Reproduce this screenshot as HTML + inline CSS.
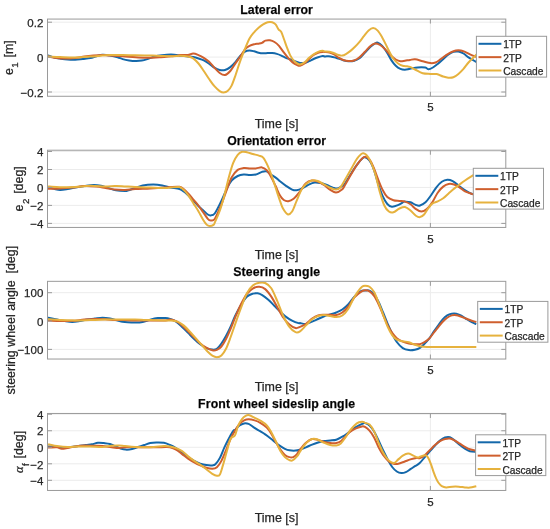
<!DOCTYPE html>
<html><head><meta charset="utf-8"><style>
html,body{margin:0;padding:0;background:#fff;}
svg{display:block;}
text{font-family:'Liberation Sans', Arial, Helvetica, sans-serif;fill:#262626;stroke:#262626;stroke-width:0.25px;}
.tl{font-size:11.5px;}
.lab{font-size:12.45px;}
.ttl{font-size:12.3px;font-weight:bold;fill:#000;}
.lg{font-size:10.2px;}
</style></head><body>
<svg width="550" height="529" viewBox="0 0 550 529">
<rect width="550" height="529" fill="#fff"/>
<line x1="47.5" y1="22.2" x2="505.8" y2="22.2" stroke="#ececec" stroke-width="1"/>
<line x1="47.5" y1="57.1" x2="505.8" y2="57.1" stroke="#ececec" stroke-width="1"/>
<line x1="47.5" y1="92.0" x2="505.8" y2="92.0" stroke="#ececec" stroke-width="1"/>
<line x1="430.4" y1="19.07" x2="430.4" y2="96.27" stroke="#ececec" stroke-width="1"/>
<clipPath id="c0"><rect x="47.5" y="19.07" width="458.3" height="77.19999999999999"/></clipPath>
<g clip-path="url(#c0)" fill="none" stroke-width="2" stroke-linejoin="round" stroke-linecap="butt">
<path d="M47.80 56.00C47.97 55.93 47.75 55.35 48.80 55.60C49.85 55.85 52.22 57.00 54.10 57.50C55.98 58.00 57.83 58.25 60.10 58.60C62.37 58.95 65.18 59.40 67.70 59.60C70.22 59.80 72.68 59.90 75.20 59.80C77.72 59.70 80.27 59.28 82.80 59.00C85.33 58.72 88.12 58.57 90.40 58.10C92.68 57.63 94.48 56.75 96.50 56.20C98.52 55.65 100.25 54.92 102.50 54.80C104.75 54.68 107.48 55.10 110.00 55.50C112.52 55.90 115.48 56.60 117.60 57.20C119.72 57.80 120.78 58.57 122.70 59.10C124.62 59.63 126.97 60.08 129.10 60.40C131.23 60.72 133.38 60.97 135.50 61.00C137.62 61.03 139.68 60.97 141.80 60.60C143.92 60.23 146.08 59.48 148.20 58.80C150.32 58.12 152.20 57.10 154.50 56.50C156.80 55.90 159.23 55.52 162.00 55.20C164.77 54.88 168.32 54.58 171.10 54.60C173.88 54.62 177.22 55.10 178.70 55.30C180.18 55.50 178.47 55.62 180.00 55.80C181.53 55.98 185.70 56.18 187.90 56.40C190.10 56.62 191.43 56.75 193.20 57.10C194.97 57.45 196.73 57.95 198.50 58.50C200.27 59.05 202.03 59.53 203.80 60.40C205.57 61.27 207.33 62.48 209.10 63.70C210.87 64.92 212.63 66.65 214.40 67.70C216.17 68.75 217.93 69.62 219.70 70.00C221.47 70.38 223.23 70.48 225.00 70.00C226.77 69.52 228.53 68.47 230.30 67.10C232.07 65.73 233.83 63.80 235.60 61.80C237.37 59.80 239.33 56.80 240.90 55.10C242.47 53.40 243.57 52.37 245.00 51.60C246.43 50.83 247.98 50.55 249.50 50.50C251.02 50.45 252.58 50.93 254.10 51.30C255.62 51.67 257.10 52.37 258.60 52.70C260.10 53.03 261.58 53.23 263.10 53.30C264.62 53.37 266.18 53.13 267.70 53.10C269.22 53.07 270.68 52.97 272.20 53.10C273.72 53.23 275.28 53.48 276.80 53.90C278.32 54.32 279.80 54.95 281.30 55.60C282.80 56.25 284.28 57.15 285.80 57.80C287.32 58.45 288.88 58.93 290.40 59.50C291.92 60.07 293.30 60.63 294.90 61.20C296.50 61.77 298.40 62.62 300.00 62.90C301.60 63.18 302.98 63.18 304.50 62.90C306.02 62.62 307.58 61.85 309.10 61.20C310.62 60.55 312.10 59.65 313.60 59.00C315.10 58.35 316.58 57.78 318.10 57.30C319.62 56.82 321.55 56.25 322.70 56.10C323.85 55.95 323.70 56.35 325.00 56.40C326.30 56.45 328.68 56.18 330.50 56.40C332.32 56.62 333.78 57.07 335.90 57.70C338.02 58.33 341.08 59.60 343.20 60.20C345.32 60.80 346.78 61.20 348.60 61.30C350.42 61.40 352.28 61.32 354.10 60.80C355.92 60.28 357.68 59.58 359.50 58.20C361.32 56.82 363.17 54.40 365.00 52.50C366.83 50.60 368.83 48.30 370.50 46.80C372.17 45.30 373.80 44.18 375.00 43.50C376.20 42.82 376.50 42.30 377.70 42.70C378.90 43.10 380.68 44.32 382.20 45.90C383.72 47.48 385.28 49.83 386.80 52.20C388.32 54.57 389.80 57.83 391.30 60.10C392.80 62.37 394.28 64.33 395.80 65.80C397.32 67.27 398.88 68.25 400.40 68.90C401.92 69.55 403.30 69.72 404.90 69.70C406.50 69.68 407.88 69.17 410.00 68.80C412.12 68.43 415.05 67.70 417.60 67.50C420.15 67.30 423.48 67.30 425.30 67.60C427.12 67.90 427.23 69.32 428.50 69.30C429.77 69.28 431.32 68.43 432.90 67.50C434.48 66.57 436.30 65.07 438.00 63.70C439.70 62.33 441.40 60.78 443.10 59.30C444.80 57.82 446.50 56.03 448.20 54.80C449.90 53.57 451.60 52.43 453.30 51.90C455.00 51.37 456.70 51.33 458.40 51.60C460.10 51.87 461.82 52.53 463.50 53.50C465.18 54.47 466.82 56.23 468.50 57.40C470.18 58.57 472.30 59.73 473.60 60.50C474.90 61.27 475.85 61.75 476.30 62.00" stroke="#1468aa"/>
<path d="M47.80 56.40C47.97 56.43 47.25 56.32 48.80 56.60C50.35 56.88 54.45 57.77 57.10 58.10C59.75 58.43 61.68 58.60 64.70 58.60C67.72 58.60 71.93 58.43 75.20 58.10C78.47 57.77 81.27 57.02 84.30 56.60C87.33 56.18 90.37 55.85 93.40 55.60C96.43 55.35 99.73 55.10 102.50 55.10C105.27 55.10 106.63 55.40 110.00 55.60C113.37 55.80 118.45 56.03 122.70 56.30C126.95 56.57 131.25 56.95 135.50 57.20C139.75 57.45 143.97 57.80 148.20 57.80C152.43 57.80 157.08 57.45 160.90 57.20C164.72 56.95 168.13 56.57 171.10 56.30C174.07 56.03 177.22 55.80 178.70 55.60C180.18 55.40 178.47 55.22 180.00 55.10C181.53 54.98 185.70 55.15 187.90 54.90C190.10 54.65 191.43 53.57 193.20 53.60C194.97 53.63 196.73 54.40 198.50 55.10C200.27 55.80 202.03 56.68 203.80 57.80C205.57 58.92 207.33 60.15 209.10 61.80C210.87 63.45 212.63 65.83 214.40 67.70C216.17 69.57 217.93 71.78 219.70 73.00C221.47 74.22 223.23 75.33 225.00 75.00C226.77 74.67 228.53 72.98 230.30 71.00C232.07 69.02 233.83 65.63 235.60 63.10C237.37 60.57 239.33 58.10 240.90 55.80C242.47 53.50 243.57 50.95 245.00 49.30C246.43 47.65 247.98 46.75 249.50 45.90C251.02 45.05 252.58 44.57 254.10 44.20C255.62 43.83 257.28 43.92 258.60 43.70C259.92 43.48 260.87 43.42 262.00 42.90C263.13 42.38 264.07 41.03 265.40 40.60C266.73 40.17 268.48 40.07 270.00 40.30C271.52 40.53 273.00 41.07 274.50 42.00C276.00 42.93 277.48 44.20 279.00 45.90C280.52 47.60 282.08 50.22 283.60 52.20C285.12 54.18 286.60 56.10 288.10 57.80C289.60 59.50 291.08 61.17 292.60 62.40C294.12 63.63 295.97 64.63 297.20 65.20C298.43 65.77 298.78 66.08 300.00 65.80C301.22 65.52 302.98 64.63 304.50 63.50C306.02 62.37 307.58 60.42 309.10 59.00C310.62 57.58 312.10 56.05 313.60 55.00C315.10 53.95 316.58 53.22 318.10 52.70C319.62 52.18 321.55 52.02 322.70 51.90C323.85 51.78 323.87 51.88 325.00 52.00C326.13 52.12 327.98 52.18 329.50 52.60C331.02 53.02 332.58 53.65 334.10 54.50C335.62 55.35 337.08 56.78 338.60 57.70C340.12 58.62 341.53 59.43 343.20 60.00C344.87 60.57 346.78 61.02 348.60 61.10C350.42 61.18 352.28 61.13 354.10 60.50C355.92 59.87 357.68 58.75 359.50 57.30C361.32 55.85 363.17 53.70 365.00 51.80C366.83 49.90 368.83 47.28 370.50 45.90C372.17 44.52 373.80 43.83 375.00 43.50C376.20 43.17 376.50 43.40 377.70 43.90C378.90 44.40 380.68 45.32 382.20 46.50C383.72 47.68 385.28 49.40 386.80 51.00C388.32 52.60 389.80 54.68 391.30 56.10C392.80 57.52 394.28 58.65 395.80 59.50C397.32 60.35 398.88 61.00 400.40 61.20C401.92 61.40 403.30 60.92 404.90 60.70C406.50 60.48 408.30 60.13 410.00 59.90C411.70 59.67 412.98 59.08 415.10 59.30C417.22 59.52 420.15 60.57 422.70 61.20C425.25 61.83 428.27 62.88 430.40 63.10C432.53 63.32 433.82 63.13 435.50 62.50C437.18 61.87 438.82 60.47 440.50 59.30C442.18 58.13 443.90 56.67 445.60 55.50C447.30 54.33 449.00 53.15 450.70 52.30C452.40 51.45 454.10 50.72 455.80 50.40C457.50 50.08 459.20 50.08 460.90 50.40C462.60 50.72 464.30 51.57 466.00 52.30C467.70 53.03 469.38 54.05 471.10 54.80C472.82 55.55 475.43 56.47 476.30 56.80" stroke="#cf5f2e"/>
<path d="M47.80 56.60C47.97 56.60 46.77 56.52 48.80 56.60C50.83 56.68 55.63 56.95 60.00 57.10C64.37 57.25 69.93 57.58 75.00 57.50C80.07 57.42 84.57 57.02 90.40 56.60C96.23 56.18 104.62 55.25 110.00 55.00C115.38 54.75 118.45 55.05 122.70 55.10C126.95 55.15 131.25 55.23 135.50 55.30C139.75 55.37 143.97 55.40 148.20 55.50C152.43 55.60 156.93 55.78 160.90 55.90C164.87 56.02 168.82 56.22 172.00 56.20C175.18 56.18 177.35 55.77 180.00 55.80C182.65 55.83 185.70 55.98 187.90 56.40C190.10 56.82 191.43 57.12 193.20 58.30C194.97 59.48 196.73 61.38 198.50 63.50C200.27 65.62 202.03 68.42 203.80 71.00C205.57 73.58 207.33 76.47 209.10 79.00C210.87 81.53 212.63 84.18 214.40 86.20C216.17 88.22 218.15 90.05 219.70 91.10C221.25 92.15 222.38 92.50 223.70 92.50C225.02 92.50 226.28 92.25 227.60 91.10C228.92 89.95 230.27 88.28 231.60 85.60C232.93 82.92 234.28 78.75 235.60 75.00C236.92 71.25 238.18 66.85 239.50 63.10C240.82 59.35 242.58 54.88 243.50 52.50C244.42 50.12 244.00 51.13 245.00 48.80C246.00 46.47 247.98 41.25 249.50 38.50C251.02 35.75 252.58 34.08 254.10 32.30C255.62 30.52 257.10 29.12 258.60 27.80C260.10 26.48 261.58 25.33 263.10 24.40C264.62 23.47 266.18 22.57 267.70 22.20C269.22 21.83 270.88 21.83 272.20 22.20C273.52 22.57 274.55 23.22 275.60 24.40C276.65 25.58 277.55 28.03 278.50 29.30C279.45 30.57 280.37 30.30 281.30 32.00C282.23 33.70 283.15 36.90 284.10 39.50C285.05 42.10 285.95 44.92 287.00 47.60C288.05 50.28 289.27 53.42 290.40 55.60C291.53 57.78 292.67 59.40 293.80 60.70C294.93 62.00 296.17 62.78 297.20 63.40C298.23 64.02 298.78 64.57 300.00 64.40C301.22 64.23 302.98 63.50 304.50 62.40C306.02 61.30 307.58 59.13 309.10 57.80C310.62 56.47 312.10 55.38 313.60 54.40C315.10 53.42 316.58 52.50 318.10 51.90C319.62 51.30 321.55 50.88 322.70 50.80C323.85 50.72 323.87 51.23 325.00 51.40C326.13 51.57 327.98 51.50 329.50 51.80C331.02 52.10 332.58 52.67 334.10 53.20C335.62 53.73 337.23 54.60 338.60 55.00C339.97 55.40 341.08 55.75 342.30 55.60C343.52 55.45 344.53 54.88 345.90 54.10C347.27 53.32 348.98 52.12 350.50 50.90C352.02 49.68 353.50 48.32 355.00 46.80C356.50 45.28 357.98 43.62 359.50 41.80C361.02 39.98 362.58 37.78 364.10 35.90C365.62 34.02 367.10 31.80 368.60 30.50C370.10 29.20 371.58 28.08 373.10 28.10C374.62 28.12 376.18 29.05 377.70 30.60C379.22 32.15 380.68 34.75 382.20 37.40C383.72 40.05 385.47 43.85 386.80 46.50C388.13 49.15 389.07 51.22 390.20 53.30C391.33 55.38 392.28 57.30 393.60 59.00C394.92 60.70 396.60 62.37 398.10 63.50C399.60 64.63 401.08 65.33 402.60 65.80C404.12 66.27 405.97 66.12 407.20 66.30C408.43 66.48 408.68 66.37 410.00 66.90C411.32 67.43 412.98 68.43 415.10 69.50C417.22 70.57 420.15 72.57 422.70 73.30C425.25 74.03 428.07 73.77 430.40 73.90C432.73 74.03 434.58 73.67 436.70 74.10C438.82 74.53 441.18 75.90 443.10 76.50C445.02 77.10 446.50 77.57 448.20 77.70C449.90 77.83 451.60 77.93 453.30 77.30C455.00 76.67 456.70 75.32 458.40 73.90C460.10 72.48 461.82 70.70 463.50 68.80C465.18 66.90 466.82 64.40 468.50 62.50C470.18 60.60 472.30 58.73 473.60 57.40C474.90 56.07 475.85 54.98 476.30 54.50" stroke="#e6b23e"/>
</g>
<line x1="47.5" y1="22.2" x2="52.0" y2="22.2" stroke="#9a9a9a" stroke-width="1"/>
<line x1="505.8" y1="22.2" x2="501.3" y2="22.2" stroke="#9a9a9a" stroke-width="1"/>
<line x1="47.5" y1="57.1" x2="52.0" y2="57.1" stroke="#9a9a9a" stroke-width="1"/>
<line x1="505.8" y1="57.1" x2="501.3" y2="57.1" stroke="#9a9a9a" stroke-width="1"/>
<line x1="47.5" y1="92.0" x2="52.0" y2="92.0" stroke="#9a9a9a" stroke-width="1"/>
<line x1="505.8" y1="92.0" x2="501.3" y2="92.0" stroke="#9a9a9a" stroke-width="1"/>
<line x1="430.4" y1="96.27" x2="430.4" y2="91.77" stroke="#9a9a9a" stroke-width="1"/>
<line x1="430.4" y1="19.07" x2="430.4" y2="23.57" stroke="#9a9a9a" stroke-width="1"/>
<rect x="47.5" y="19.07" width="458.30" height="77.20" fill="none" stroke="#9a9a9a" stroke-width="1.0"/>
<text x="43.3" y="26.90" text-anchor="end" class="tl">0.2</text>
<text x="43.3" y="61.80" text-anchor="end" class="tl">0</text>
<text x="43.3" y="96.70" text-anchor="end" class="tl">−0.2</text>
<text x="430.4" y="111.47" text-anchor="middle" class="tl">5</text>
<text x="276.6" y="128.17" text-anchor="middle" class="lab">Time [s]</text>
<text x="276.60" y="13.57" text-anchor="middle" class="ttl" letter-spacing="0.0">Lateral error</text>
<text transform="translate(12.8 57.67) rotate(-90)" text-anchor="middle" class="lab">e<tspan dx="0.5" dy="5.5" font-size="9.8">1</tspan><tspan dx="1.3" dy="-5.5"> [m]</tspan></text>
<rect x="476.4" y="36.3" width="70.2" height="40.8" fill="#fff" stroke="#9a9a9a" stroke-width="1"/>
<line x1="478.5" y1="43.80" x2="501.4" y2="43.80" stroke="#1468aa" stroke-width="2"/>
<text x="503.2" y="48.30" class="lg">1TP</text>
<line x1="478.5" y1="57.15" x2="501.4" y2="57.15" stroke="#cf5f2e" stroke-width="2"/>
<text x="503.2" y="61.65" class="lg">2TP</text>
<line x1="478.5" y1="70.50" x2="501.4" y2="70.50" stroke="#e6b23e" stroke-width="2"/>
<text x="503.2" y="75.00" class="lg">Cascade</text>
<line x1="47.5" y1="151.5" x2="505.8" y2="151.5" stroke="#ececec" stroke-width="1"/>
<line x1="47.5" y1="169.5" x2="505.8" y2="169.5" stroke="#ececec" stroke-width="1"/>
<line x1="47.5" y1="187.45" x2="505.8" y2="187.45" stroke="#ececec" stroke-width="1"/>
<line x1="47.5" y1="205.4" x2="505.8" y2="205.4" stroke="#ececec" stroke-width="1"/>
<line x1="47.5" y1="223.4" x2="505.8" y2="223.4" stroke="#ececec" stroke-width="1"/>
<line x1="430.4" y1="150.22" x2="430.4" y2="227.44" stroke="#ececec" stroke-width="1"/>
<clipPath id="c1"><rect x="47.5" y="150.22" width="458.3" height="77.22"/></clipPath>
<g clip-path="url(#c1)" fill="none" stroke-width="2" stroke-linejoin="round" stroke-linecap="butt">
<path d="M47.80 187.30C48.08 187.35 48.45 187.35 49.50 187.60C50.55 187.85 52.33 188.40 54.10 188.80C55.87 189.20 57.83 189.95 60.10 190.00C62.37 190.05 65.18 189.50 67.70 189.10C70.22 188.70 72.43 188.10 75.20 187.60C77.97 187.10 81.27 186.53 84.30 186.10C87.33 185.67 90.62 185.05 93.40 185.00C96.18 184.95 98.48 185.28 101.00 185.80C103.52 186.32 105.98 187.35 108.50 188.10C111.02 188.85 113.35 189.80 116.10 190.30C118.85 190.80 123.08 191.05 125.00 191.10C126.92 191.15 125.92 191.10 127.60 190.60C129.28 190.10 132.58 188.95 135.10 188.10C137.62 187.25 139.67 186.08 142.70 185.50C145.73 184.92 150.03 184.60 153.30 184.60C156.57 184.60 159.53 185.02 162.30 185.50C165.08 185.98 167.08 186.92 169.95 187.50C172.82 188.08 177.12 188.28 179.50 189.00C181.88 189.72 182.63 190.62 184.20 191.80C185.77 192.98 187.33 194.60 188.90 196.10C190.47 197.60 192.02 199.15 193.60 200.80C195.18 202.45 196.82 204.43 198.40 206.00C199.98 207.57 201.53 208.78 203.10 210.20C204.67 211.62 206.55 213.63 207.80 214.50C209.05 215.37 209.45 215.57 210.60 215.40C211.75 215.23 212.97 215.78 214.70 213.50C216.43 211.22 218.93 205.93 221.00 201.70C223.07 197.47 225.33 191.63 227.10 188.10C228.87 184.57 229.83 182.52 231.60 180.50C233.37 178.48 235.68 177.00 237.70 176.00C239.72 175.00 241.68 174.68 243.70 174.50C245.72 174.32 247.78 174.90 249.80 174.90C251.82 174.90 253.78 175.00 255.80 174.50C257.82 174.00 260.13 172.42 261.90 171.90C263.67 171.38 264.88 170.97 266.40 171.40C267.92 171.83 269.23 173.30 271.00 174.50C272.77 175.70 275.50 177.47 277.00 178.60C278.50 179.73 278.50 180.10 280.00 181.30C281.50 182.50 283.98 184.42 286.00 185.80C288.02 187.18 290.33 188.85 292.10 189.60C293.87 190.35 294.83 190.55 296.60 190.30C298.37 190.05 300.68 189.05 302.70 188.10C304.72 187.15 306.68 185.53 308.70 184.60C310.72 183.67 312.78 182.75 314.80 182.50C316.82 182.25 318.78 182.68 320.80 183.10C322.82 183.52 324.88 184.25 326.90 185.00C328.92 185.75 331.13 187.02 332.90 187.60C334.67 188.18 335.73 188.93 337.50 188.50C339.27 188.07 342.25 185.83 343.50 185.00C344.75 184.17 343.75 185.38 345.00 183.50C346.25 181.62 348.98 176.85 351.00 173.70C353.02 170.55 354.95 167.32 357.10 164.60C359.25 161.88 361.88 158.15 363.90 157.40C365.92 156.65 367.57 158.13 369.20 160.10C370.83 162.07 372.18 165.17 373.70 169.20C375.22 173.23 376.78 179.77 378.30 184.30C379.82 188.83 381.30 193.12 382.80 196.40C384.30 199.68 385.78 202.28 387.30 204.00C388.82 205.72 390.13 206.50 391.90 206.70C393.67 206.90 395.88 206.03 397.90 205.20C399.92 204.37 402.82 202.30 404.00 201.70C405.18 201.10 403.92 201.50 405.00 201.60C406.08 201.70 408.68 201.73 410.50 202.30C412.32 202.87 414.32 204.47 415.90 205.00C417.48 205.53 418.40 205.95 420.00 205.50C421.60 205.05 423.68 203.97 425.50 202.30C427.32 200.63 429.08 198.00 430.90 195.50C432.72 193.00 434.58 189.58 436.40 187.30C438.22 185.02 439.98 183.05 441.80 181.80C443.62 180.55 445.48 179.92 447.30 179.80C449.12 179.68 450.88 180.20 452.70 181.10C454.52 182.00 456.38 183.83 458.20 185.20C460.02 186.57 461.78 188.05 463.60 189.30C465.42 190.55 467.62 191.90 469.10 192.70C470.58 193.50 471.30 193.72 472.50 194.10C473.70 194.48 475.67 194.85 476.30 195.00" stroke="#1468aa"/>
<path d="M47.80 188.80C48.08 188.80 47.45 188.85 49.50 188.80C51.55 188.75 56.32 188.70 60.10 188.50C63.88 188.30 68.17 188.00 72.20 187.60C76.23 187.20 80.27 186.27 84.30 186.10C88.33 185.93 92.87 186.27 96.40 186.60C99.93 186.93 102.47 187.60 105.50 188.10C108.53 188.60 111.35 189.28 114.60 189.60C117.85 189.92 121.58 190.08 125.00 190.00C128.42 189.92 130.90 189.35 135.10 189.10C139.30 188.85 145.15 188.75 150.20 188.50C155.25 188.25 162.10 187.83 165.40 187.60C168.70 187.37 167.65 187.23 170.00 187.10C172.35 186.97 177.13 186.40 179.50 186.80C181.87 187.20 182.63 188.27 184.20 189.50C185.77 190.73 187.33 192.48 188.90 194.20C190.47 195.92 192.02 197.92 193.60 199.80C195.18 201.68 196.82 203.45 198.40 205.50C199.98 207.55 201.53 209.88 203.10 212.10C204.67 214.32 206.55 217.42 207.80 218.80C209.05 220.18 209.45 220.37 210.60 220.40C211.75 220.43 212.97 221.48 214.70 219.00C216.43 216.52 218.93 210.53 221.00 205.50C223.07 200.47 225.33 193.47 227.10 188.80C228.87 184.13 229.83 180.65 231.60 177.50C233.37 174.35 235.68 171.47 237.70 169.90C239.72 168.33 241.68 168.35 243.70 168.10C245.72 167.85 247.78 168.35 249.80 168.40C251.82 168.45 253.78 168.57 255.80 168.40C257.82 168.23 260.13 167.15 261.90 167.40C263.67 167.65 264.88 168.35 266.40 169.90C267.92 171.45 269.48 174.05 271.00 176.70C272.52 179.35 274.00 182.65 275.50 185.80C277.00 188.95 278.62 193.23 280.00 195.60C281.38 197.97 282.42 199.07 283.80 200.00C285.18 200.93 286.67 201.42 288.30 201.20C289.93 200.98 291.70 200.25 293.60 198.70C295.50 197.15 297.68 194.43 299.70 191.90C301.72 189.37 303.68 185.40 305.70 183.50C307.72 181.60 309.78 180.82 311.80 180.50C313.82 180.18 315.78 180.85 317.80 181.60C319.82 182.35 321.88 183.67 323.90 185.00C325.92 186.33 327.88 188.33 329.90 189.60C331.92 190.87 333.98 192.60 336.00 192.60C338.02 192.60 340.50 190.87 342.00 189.60C343.50 188.33 343.50 187.52 345.00 185.00C346.50 182.48 348.98 177.90 351.00 174.50C353.02 171.10 354.95 167.50 357.10 164.60C359.25 161.70 361.88 157.98 363.90 157.10C365.92 156.22 367.57 157.53 369.20 159.30C370.83 161.07 372.18 164.28 373.70 167.70C375.22 171.12 376.78 176.03 378.30 179.80C379.82 183.57 381.30 187.42 382.80 190.30C384.30 193.18 385.53 195.45 387.30 197.10C389.07 198.75 391.38 199.57 393.40 200.20C395.42 200.83 397.47 200.67 399.40 200.90C401.33 201.13 403.15 201.03 405.00 201.60C406.85 202.17 408.68 203.05 410.50 204.30C412.32 205.55 414.08 207.88 415.90 209.10C417.72 210.32 419.58 211.60 421.40 211.60C423.22 211.60 424.98 210.65 426.80 209.10C428.62 207.55 430.48 205.03 432.30 202.30C434.12 199.57 435.88 195.32 437.70 192.70C439.52 190.08 441.38 188.07 443.20 186.60C445.02 185.13 446.78 184.25 448.60 183.90C450.42 183.55 452.28 183.93 454.10 184.50C455.92 185.07 457.68 186.15 459.50 187.30C461.32 188.45 462.83 190.27 465.00 191.40C467.17 192.53 470.62 193.50 472.50 194.10C474.38 194.70 475.67 194.85 476.30 195.00" stroke="#cf5f2e"/>
<path d="M47.80 186.60C48.08 186.60 47.47 186.48 49.50 186.60C51.53 186.72 55.75 187.23 60.00 187.30C64.25 187.37 69.93 187.25 75.00 187.00C80.07 186.75 85.40 185.87 90.40 185.80C95.40 185.73 100.97 186.55 105.00 186.60C109.03 186.65 111.77 186.17 114.60 186.10C117.43 186.03 118.58 186.05 122.00 186.20C125.42 186.35 130.40 186.77 135.10 187.00C139.80 187.23 145.15 187.42 150.20 187.60C155.25 187.78 162.10 188.10 165.40 188.10C168.70 188.10 167.65 187.77 170.00 187.60C172.35 187.43 177.13 186.63 179.50 187.10C181.87 187.57 182.63 188.90 184.20 190.40C185.77 191.90 187.33 193.90 188.90 196.10C190.47 198.30 192.02 201.08 193.60 203.60C195.18 206.12 196.82 208.52 198.40 211.20C199.98 213.88 201.68 217.42 203.10 219.70C204.52 221.98 205.80 223.85 206.90 224.90C208.00 225.95 208.60 226.00 209.70 226.00C210.80 226.00 212.62 225.55 213.50 224.90C214.38 224.25 214.00 224.33 215.00 222.10C216.00 219.87 217.98 215.78 219.50 211.50C221.02 207.22 222.58 201.95 224.10 196.40C225.62 190.85 227.10 183.75 228.60 178.20C230.10 172.65 231.58 167.00 233.10 163.10C234.62 159.20 236.18 156.68 237.70 154.80C239.22 152.92 240.68 152.23 242.20 151.80C243.72 151.37 245.03 151.83 246.80 152.20C248.57 152.57 250.78 153.43 252.80 154.00C254.82 154.57 257.13 154.97 258.90 155.60C260.67 156.23 261.90 156.05 263.40 157.80C264.90 159.55 266.38 162.70 267.90 166.10C269.42 169.50 270.98 173.90 272.50 178.20C274.02 182.50 275.75 188.12 277.00 191.90C278.25 195.68 279.00 198.13 280.00 200.90C281.00 203.67 281.73 206.27 283.00 208.50C284.27 210.73 286.08 213.80 287.60 214.30C289.12 214.80 290.60 213.73 292.10 211.50C293.60 209.27 295.08 204.43 296.60 200.90C298.12 197.37 299.68 193.07 301.20 190.30C302.72 187.53 303.93 185.93 305.70 184.30C307.47 182.67 309.78 181.05 311.80 180.50C313.82 179.95 315.78 180.37 317.80 181.00C319.82 181.63 321.88 183.20 323.90 184.30C325.92 185.40 327.88 186.72 329.90 187.60C331.92 188.48 334.23 189.65 336.00 189.60C337.77 189.55 339.00 188.93 340.50 187.30C342.00 185.67 343.25 182.82 345.00 179.80C346.75 176.78 348.98 172.73 351.00 169.20C353.02 165.67 355.20 161.25 357.10 158.60C359.00 155.95 360.88 153.93 362.40 153.30C363.92 152.67 364.82 153.42 366.20 154.80C367.58 156.18 369.20 158.45 370.70 161.60C372.20 164.75 373.68 168.65 375.20 173.70C376.72 178.75 378.28 186.60 379.80 191.90C381.32 197.20 382.78 202.23 384.30 205.50C385.82 208.77 387.38 210.37 388.90 211.50C390.42 212.63 391.65 212.80 393.40 212.30C395.15 211.80 397.47 209.38 399.40 208.50C401.33 207.62 403.15 206.67 405.00 207.00C406.85 207.33 408.68 209.05 410.50 210.50C412.32 211.95 414.32 214.60 415.90 215.70C417.48 216.80 418.63 217.30 420.00 217.10C421.37 216.90 422.73 215.95 424.10 214.50C425.47 213.05 426.83 210.22 428.20 208.40C429.57 206.58 430.72 204.77 432.30 203.60C433.88 202.43 435.88 202.30 437.70 201.40C439.52 200.50 441.38 199.53 443.20 198.20C445.02 196.87 446.78 195.00 448.60 193.40C450.42 191.80 452.28 190.08 454.10 188.60C455.92 187.12 457.68 185.85 459.50 184.50C461.32 183.15 462.83 181.97 465.00 180.50C467.17 179.03 470.62 176.87 472.50 175.70C474.38 174.53 475.67 173.87 476.30 173.50" stroke="#e6b23e"/>
</g>
<line x1="47.5" y1="151.5" x2="52.0" y2="151.5" stroke="#9a9a9a" stroke-width="1"/>
<line x1="505.8" y1="151.5" x2="501.3" y2="151.5" stroke="#9a9a9a" stroke-width="1"/>
<line x1="47.5" y1="169.5" x2="52.0" y2="169.5" stroke="#9a9a9a" stroke-width="1"/>
<line x1="505.8" y1="169.5" x2="501.3" y2="169.5" stroke="#9a9a9a" stroke-width="1"/>
<line x1="47.5" y1="187.45" x2="52.0" y2="187.45" stroke="#9a9a9a" stroke-width="1"/>
<line x1="505.8" y1="187.45" x2="501.3" y2="187.45" stroke="#9a9a9a" stroke-width="1"/>
<line x1="47.5" y1="205.4" x2="52.0" y2="205.4" stroke="#9a9a9a" stroke-width="1"/>
<line x1="505.8" y1="205.4" x2="501.3" y2="205.4" stroke="#9a9a9a" stroke-width="1"/>
<line x1="47.5" y1="223.4" x2="52.0" y2="223.4" stroke="#9a9a9a" stroke-width="1"/>
<line x1="505.8" y1="223.4" x2="501.3" y2="223.4" stroke="#9a9a9a" stroke-width="1"/>
<line x1="430.4" y1="227.44" x2="430.4" y2="222.94" stroke="#9a9a9a" stroke-width="1"/>
<line x1="430.4" y1="150.22" x2="430.4" y2="154.72" stroke="#9a9a9a" stroke-width="1"/>
<rect x="47.5" y="150.22" width="458.30" height="77.22" fill="none" stroke="#9a9a9a" stroke-width="1.0"/>
<text x="43.3" y="156.20" text-anchor="end" class="tl">4</text>
<text x="43.3" y="174.20" text-anchor="end" class="tl">2</text>
<text x="43.3" y="192.15" text-anchor="end" class="tl">0</text>
<text x="43.3" y="210.10" text-anchor="end" class="tl">−2</text>
<text x="43.3" y="228.10" text-anchor="end" class="tl">−4</text>
<text x="430.4" y="242.64" text-anchor="middle" class="tl">5</text>
<text x="276.6" y="259.34" text-anchor="middle" class="lab">Time [s]</text>
<text x="276.64" y="144.72" text-anchor="middle" class="ttl" letter-spacing="0.07">Orientation error</text>
<text transform="translate(23.4 188.83) rotate(-90)" text-anchor="middle" class="lab">e<tspan dx="0.5" dy="5.5" font-size="9.8">2</tspan><tspan dx="1.3" dy="-5.5"> [deg]</tspan></text>
<rect x="473.3" y="168.3" width="70.2" height="40.8" fill="#fff" stroke="#9a9a9a" stroke-width="1"/>
<line x1="475.40000000000003" y1="175.80" x2="498.3" y2="175.80" stroke="#1468aa" stroke-width="2"/>
<text x="500.1" y="180.30" class="lg">1TP</text>
<line x1="475.40000000000003" y1="189.15" x2="498.3" y2="189.15" stroke="#cf5f2e" stroke-width="2"/>
<text x="500.1" y="193.65" class="lg">2TP</text>
<line x1="475.40000000000003" y1="202.50" x2="498.3" y2="202.50" stroke="#e6b23e" stroke-width="2"/>
<text x="500.1" y="207.00" class="lg">Cascade</text>
<line x1="47.5" y1="292.7" x2="505.8" y2="292.7" stroke="#ececec" stroke-width="1"/>
<line x1="47.5" y1="321.05" x2="505.8" y2="321.05" stroke="#ececec" stroke-width="1"/>
<line x1="47.5" y1="349.4" x2="505.8" y2="349.4" stroke="#ececec" stroke-width="1"/>
<line x1="430.4" y1="281.33" x2="430.4" y2="359.03" stroke="#ececec" stroke-width="1"/>
<clipPath id="c2"><rect x="47.5" y="281.33" width="458.3" height="77.69999999999999"/></clipPath>
<g clip-path="url(#c2)" fill="none" stroke-width="2" stroke-linejoin="round" stroke-linecap="butt">
<path d="M47.80 317.80C48.08 317.85 47.95 317.80 49.50 318.10C51.05 318.40 54.57 319.10 57.10 319.60C59.63 320.10 62.18 320.70 64.70 321.10C67.22 321.50 69.68 322.00 72.20 322.00C74.72 322.00 77.28 321.50 79.80 321.10C82.32 320.70 84.78 320.02 87.30 319.60C89.82 319.18 92.37 318.90 94.90 318.60C97.43 318.30 99.98 317.80 102.50 317.80C105.02 317.80 107.48 318.15 110.00 318.60C112.52 319.05 115.52 319.98 117.60 320.50C119.68 321.02 120.83 321.40 122.50 321.70C124.17 322.00 125.50 322.15 127.60 322.30C129.70 322.45 132.58 322.65 135.10 322.60C137.62 322.55 140.18 322.50 142.70 322.00C145.22 321.50 147.68 320.25 150.20 319.60C152.72 318.95 155.27 318.35 157.80 318.10C160.33 317.85 163.37 317.95 165.40 318.10C167.43 318.25 168.23 318.42 170.00 319.00C171.77 319.58 173.98 320.28 176.00 321.60C178.02 322.92 180.08 325.02 182.10 326.90C184.12 328.78 186.08 330.88 188.10 332.90C190.12 334.92 192.18 337.10 194.20 339.00C196.22 340.90 198.18 342.78 200.20 344.30C202.22 345.82 204.28 347.22 206.30 348.10C208.32 348.98 210.53 349.48 212.30 349.60C214.07 349.72 215.38 349.82 216.90 348.80C218.42 347.78 219.88 345.63 221.40 343.50C222.92 341.37 224.48 338.77 226.00 336.00C227.52 333.23 229.00 330.18 230.50 326.90C232.00 323.62 233.25 319.95 235.00 316.30C236.75 312.65 238.98 308.28 241.00 305.00C243.02 301.72 245.08 298.50 247.10 296.60C249.12 294.70 251.33 294.15 253.10 293.60C254.87 293.05 256.18 293.05 257.70 293.30C259.22 293.55 260.43 294.03 262.20 295.10C263.97 296.17 266.28 297.93 268.30 299.70C270.32 301.47 272.28 303.68 274.30 305.70C276.32 307.72 278.38 309.90 280.40 311.80C282.42 313.70 284.38 315.60 286.40 317.10C288.42 318.60 290.48 319.80 292.50 320.80C294.52 321.80 297.25 322.72 298.50 323.10C299.75 323.48 298.75 322.97 300.00 323.10C301.25 323.23 303.98 324.15 306.00 323.90C308.02 323.65 310.08 322.42 312.10 321.60C314.12 320.78 316.08 319.88 318.10 319.00C320.12 318.12 322.18 317.05 324.20 316.30C326.22 315.55 328.18 315.13 330.20 314.50C332.22 313.87 334.28 313.33 336.30 312.50C338.32 311.67 340.28 310.88 342.30 309.50C344.32 308.12 346.38 306.35 348.40 304.20C350.42 302.05 352.38 298.75 354.40 296.60C356.42 294.45 358.73 292.30 360.50 291.30C362.27 290.30 363.50 290.72 365.00 290.60C366.50 290.48 367.98 289.97 369.50 290.60C371.02 291.23 372.58 292.52 374.10 294.40C375.62 296.28 377.10 298.88 378.60 301.90C380.10 304.92 381.58 308.83 383.10 312.50C384.62 316.17 386.18 320.37 387.70 323.90C389.22 327.43 390.68 330.68 392.20 333.70C393.72 336.72 395.03 339.60 396.80 342.00C398.57 344.40 400.78 346.75 402.80 348.10C404.82 349.45 406.88 349.83 408.90 350.10C410.92 350.37 413.05 350.08 414.90 349.70C416.75 349.32 418.40 348.78 420.00 347.80C421.60 346.82 422.98 345.32 424.50 343.80C426.02 342.28 427.58 340.68 429.10 338.70C430.62 336.72 432.10 334.08 433.60 331.90C435.10 329.72 436.58 327.68 438.10 325.60C439.62 323.52 441.18 321.10 442.70 319.40C444.22 317.70 445.68 316.35 447.20 315.40C448.72 314.45 450.28 313.98 451.80 313.70C453.32 313.42 454.80 313.42 456.30 313.70C457.80 313.98 459.28 314.63 460.80 315.40C462.32 316.17 463.88 317.35 465.40 318.30C466.92 319.25 468.08 320.12 469.90 321.10C471.72 322.08 475.23 323.68 476.30 324.20" stroke="#1468aa"/>
<path d="M47.80 320.50C48.08 320.50 47.45 320.40 49.50 320.50C51.55 320.60 56.32 321.05 60.10 321.10C63.88 321.15 68.17 321.05 72.20 320.80C76.23 320.55 80.52 319.90 84.30 319.60C88.08 319.30 91.37 319.05 94.90 319.00C98.43 318.95 102.22 319.12 105.50 319.30C108.78 319.48 111.77 319.98 114.60 320.10C117.43 320.22 119.08 319.93 122.50 320.00C125.92 320.07 130.48 320.42 135.10 320.50C139.72 320.58 145.15 320.50 150.20 320.50C155.25 320.50 162.10 320.65 165.40 320.50C168.70 320.35 168.23 319.50 170.00 319.60C171.77 319.70 173.98 320.13 176.00 321.10C178.02 322.07 180.08 323.68 182.10 325.40C184.12 327.12 186.08 329.38 188.10 331.40C190.12 333.42 192.18 335.48 194.20 337.50C196.22 339.52 198.18 341.80 200.20 343.50C202.22 345.20 204.28 346.57 206.30 347.70C208.32 348.83 210.53 349.93 212.30 350.30C214.07 350.67 215.38 350.53 216.90 349.90C218.42 349.27 219.88 348.32 221.40 346.50C222.92 344.68 224.48 341.90 226.00 339.00C227.52 336.10 229.00 332.63 230.50 329.10C232.00 325.57 233.25 321.95 235.00 317.80C236.75 313.65 238.98 308.23 241.00 304.20C243.02 300.17 245.08 296.25 247.10 293.60C249.12 290.95 251.08 289.43 253.10 288.30C255.12 287.17 257.18 286.67 259.20 286.80C261.22 286.93 263.18 287.47 265.20 289.10C267.22 290.73 269.28 293.58 271.30 296.60C273.32 299.62 275.28 303.67 277.30 307.20C279.32 310.73 281.38 314.90 283.40 317.80C285.42 320.70 287.38 322.88 289.40 324.60C291.42 326.32 293.73 327.72 295.50 328.10C297.27 328.48 298.25 327.60 300.00 326.90C301.75 326.20 303.98 325.28 306.00 323.90C308.02 322.52 310.08 320.00 312.10 318.60C314.12 317.20 316.08 316.13 318.10 315.50C320.12 314.87 322.18 314.92 324.20 314.80C326.22 314.68 328.18 314.75 330.20 314.80C332.22 314.85 334.28 315.48 336.30 315.10C338.32 314.72 340.28 313.93 342.30 312.50C344.32 311.07 346.38 309.02 348.40 306.50C350.42 303.98 352.38 299.80 354.40 297.40C356.42 295.00 358.73 293.28 360.50 292.10C362.27 290.92 363.50 290.43 365.00 290.30C366.50 290.17 367.98 290.37 369.50 291.30C371.02 292.23 372.58 293.75 374.10 295.90C375.62 298.05 377.10 301.05 378.60 304.20C380.10 307.35 381.58 311.27 383.10 314.80C384.62 318.33 386.18 322.38 387.70 325.40C389.22 328.42 390.68 330.77 392.20 332.90C393.72 335.03 395.03 336.73 396.80 338.20C398.57 339.67 400.78 340.82 402.80 341.70C404.82 342.58 406.88 343.07 408.90 343.50C410.92 343.93 413.05 344.20 414.90 344.30C416.75 344.40 418.40 344.47 420.00 344.10C421.60 343.73 422.98 343.00 424.50 342.10C426.02 341.20 427.58 340.22 429.10 338.70C430.62 337.18 432.10 334.90 433.60 333.00C435.10 331.10 436.58 329.18 438.10 327.30C439.62 325.42 441.18 323.30 442.70 321.70C444.22 320.10 445.68 318.75 447.20 317.70C448.72 316.65 450.28 315.82 451.80 315.40C453.32 314.98 454.80 315.02 456.30 315.20C457.80 315.38 459.28 315.98 460.80 316.50C462.32 317.02 463.88 317.72 465.40 318.30C466.92 318.88 468.08 319.35 469.90 320.00C471.72 320.65 475.23 321.83 476.30 322.20" stroke="#cf5f2e"/>
<path d="M47.80 319.30C48.08 319.30 47.47 319.17 49.50 319.30C51.53 319.43 55.75 319.90 60.00 320.10C64.25 320.30 70.00 320.50 75.00 320.50C80.00 320.50 85.00 320.25 90.00 320.10C95.00 319.95 99.17 319.68 105.00 319.60C110.83 319.52 119.98 319.60 125.00 319.60C130.02 319.60 130.90 319.52 135.10 319.60C139.30 319.68 145.22 319.95 150.20 320.10C155.18 320.25 161.70 320.43 165.00 320.50C168.30 320.57 167.90 320.32 170.00 320.50C172.10 320.68 175.33 320.78 177.60 321.60C179.87 322.42 181.58 323.77 183.60 325.40C185.62 327.03 187.68 329.27 189.70 331.40C191.72 333.53 193.68 335.93 195.70 338.20C197.72 340.47 199.78 342.73 201.80 345.00C203.82 347.27 206.05 350.03 207.80 351.80C209.55 353.57 210.78 354.70 212.30 355.60C213.82 356.50 215.38 357.20 216.90 357.20C218.42 357.20 219.88 357.00 221.40 355.60C222.92 354.20 224.48 351.82 226.00 348.80C227.52 345.78 229.00 341.53 230.50 337.50C232.00 333.47 233.25 329.52 235.00 324.60C236.75 319.68 238.98 313.28 241.00 308.00C243.02 302.72 245.08 296.68 247.10 292.90C249.12 289.12 251.08 287.00 253.10 285.30C255.12 283.60 257.18 283.08 259.20 282.70C261.22 282.32 263.18 282.07 265.20 283.00C267.22 283.93 269.28 285.27 271.30 288.30C273.32 291.33 275.28 296.53 277.30 301.20C279.32 305.87 281.38 312.02 283.40 316.30C285.42 320.58 287.38 324.25 289.40 326.90C291.42 329.55 293.73 331.45 295.50 332.20C297.27 332.95 298.25 332.53 300.00 331.40C301.75 330.27 303.98 327.42 306.00 325.40C308.02 323.38 310.08 320.87 312.10 319.30C314.12 317.73 316.08 316.70 318.10 316.00C320.12 315.30 322.18 315.10 324.20 315.10C326.22 315.10 328.18 315.67 330.20 316.00C332.22 316.33 334.28 317.18 336.30 317.10C338.32 317.02 340.28 316.90 342.30 315.50C344.32 314.10 346.63 311.33 348.40 308.70C350.17 306.07 351.38 302.47 352.90 299.70C354.42 296.93 355.98 294.25 357.50 292.10C359.02 289.95 360.75 287.87 362.00 286.80C363.25 285.73 363.75 285.70 365.00 285.70C366.25 285.70 367.98 285.73 369.50 286.80C371.02 287.87 372.58 289.45 374.10 292.10C375.62 294.75 377.10 298.92 378.60 302.70C380.10 306.48 381.58 310.77 383.10 314.80C384.62 318.83 386.18 323.50 387.70 326.90C389.22 330.30 390.68 333.07 392.20 335.20C393.72 337.33 395.03 338.70 396.80 339.70C398.57 340.70 400.78 340.77 402.80 341.20C404.82 341.63 406.88 341.72 408.90 342.30C410.92 342.88 412.88 344.02 414.90 344.70C416.92 345.38 418.98 346.03 421.00 346.40C423.02 346.77 423.83 346.82 427.00 346.90C430.17 346.98 434.50 346.90 440.00 346.90C445.50 346.90 453.95 346.90 460.00 346.90C466.05 346.90 473.58 346.90 476.30 346.90" stroke="#e6b23e"/>
</g>
<line x1="47.5" y1="292.7" x2="52.0" y2="292.7" stroke="#9a9a9a" stroke-width="1"/>
<line x1="505.8" y1="292.7" x2="501.3" y2="292.7" stroke="#9a9a9a" stroke-width="1"/>
<line x1="47.5" y1="321.05" x2="52.0" y2="321.05" stroke="#9a9a9a" stroke-width="1"/>
<line x1="505.8" y1="321.05" x2="501.3" y2="321.05" stroke="#9a9a9a" stroke-width="1"/>
<line x1="47.5" y1="349.4" x2="52.0" y2="349.4" stroke="#9a9a9a" stroke-width="1"/>
<line x1="505.8" y1="349.4" x2="501.3" y2="349.4" stroke="#9a9a9a" stroke-width="1"/>
<line x1="430.4" y1="359.03" x2="430.4" y2="354.53" stroke="#9a9a9a" stroke-width="1"/>
<line x1="430.4" y1="281.33" x2="430.4" y2="285.83" stroke="#9a9a9a" stroke-width="1"/>
<rect x="47.5" y="281.33" width="458.30" height="77.70" fill="none" stroke="#9a9a9a" stroke-width="1.0"/>
<text x="43.3" y="297.40" text-anchor="end" class="tl">100</text>
<text x="43.3" y="325.75" text-anchor="end" class="tl">0</text>
<text x="43.3" y="354.10" text-anchor="end" class="tl">−100</text>
<text x="430.4" y="374.23" text-anchor="middle" class="tl">5</text>
<text x="276.6" y="390.93" text-anchor="middle" class="lab">Time [s]</text>
<text x="276.69" y="275.83" text-anchor="middle" class="ttl" letter-spacing="0.17">Steering angle</text>
<text transform="translate(15.3 320.18) rotate(-90)" text-anchor="middle" class="lab">steering wheel angle  [deg]</text>
<rect x="477.7" y="301.4" width="70.2" height="40.8" fill="#fff" stroke="#9a9a9a" stroke-width="1"/>
<line x1="479.8" y1="308.90" x2="502.7" y2="308.90" stroke="#1468aa" stroke-width="2"/>
<text x="504.5" y="313.40" class="lg">1TP</text>
<line x1="479.8" y1="322.25" x2="502.7" y2="322.25" stroke="#cf5f2e" stroke-width="2"/>
<text x="504.5" y="326.75" class="lg">2TP</text>
<line x1="479.8" y1="335.60" x2="502.7" y2="335.60" stroke="#e6b23e" stroke-width="2"/>
<text x="504.5" y="340.10" class="lg">Cascade</text>
<line x1="47.5" y1="414.2" x2="505.8" y2="414.2" stroke="#ececec" stroke-width="1"/>
<line x1="47.5" y1="430.75" x2="505.8" y2="430.75" stroke="#ececec" stroke-width="1"/>
<line x1="47.5" y1="447.25" x2="505.8" y2="447.25" stroke="#ececec" stroke-width="1"/>
<line x1="47.5" y1="463.8" x2="505.8" y2="463.8" stroke="#ececec" stroke-width="1"/>
<line x1="47.5" y1="480.3" x2="505.8" y2="480.3" stroke="#ececec" stroke-width="1"/>
<line x1="430.4" y1="413.46" x2="430.4" y2="490.46" stroke="#ececec" stroke-width="1"/>
<clipPath id="c3"><rect x="47.5" y="413.46" width="458.3" height="77.0"/></clipPath>
<g clip-path="url(#c3)" fill="none" stroke-width="2" stroke-linejoin="round" stroke-linecap="butt">
<path d="M47.80 446.50C48.08 446.50 47.95 446.42 49.50 446.50C51.05 446.58 54.83 446.87 57.10 447.00C59.37 447.13 60.83 447.30 63.10 447.30C65.37 447.30 68.17 447.20 70.70 447.00C73.23 446.80 75.78 446.43 78.30 446.10C80.82 445.77 83.53 445.30 85.80 445.00C88.07 444.70 89.88 444.67 91.90 444.30C93.92 443.93 95.88 443.00 97.90 442.80C99.92 442.60 101.98 442.90 104.00 443.10C106.02 443.30 107.98 443.43 110.00 444.00C112.02 444.57 114.33 445.75 116.10 446.50C117.87 447.25 119.03 447.98 120.60 448.50C122.17 449.02 123.58 449.50 125.50 449.60C127.42 449.70 130.00 449.53 132.10 449.10C134.20 448.67 136.08 447.68 138.10 447.00C140.12 446.32 142.18 445.65 144.20 445.00C146.22 444.35 148.18 443.52 150.20 443.10C152.22 442.68 154.02 442.55 156.30 442.50C158.58 442.45 161.62 442.38 163.90 442.80C166.18 443.22 167.98 444.12 170.00 445.00C172.02 445.88 173.98 446.83 176.00 448.10C178.02 449.37 180.08 451.10 182.10 452.60C184.12 454.10 186.08 455.72 188.10 457.10C190.12 458.48 192.18 459.82 194.20 460.90C196.22 461.98 198.18 462.90 200.20 463.60C202.22 464.30 204.28 464.80 206.30 465.10C208.32 465.40 210.78 465.55 212.30 465.40C213.82 465.25 214.13 465.45 215.40 464.20C216.67 462.95 218.40 460.72 219.90 457.90C221.40 455.08 222.88 450.58 224.40 447.30C225.92 444.02 227.48 440.97 229.00 438.20C230.52 435.43 232.50 432.08 233.50 430.70C234.50 429.32 234.00 430.78 235.00 429.90C236.00 429.02 237.98 426.48 239.50 425.40C241.02 424.32 242.58 423.65 244.10 423.40C245.62 423.15 247.10 423.32 248.60 423.90C250.10 424.48 251.33 425.77 253.10 426.90C254.87 428.03 257.18 429.45 259.20 430.70C261.22 431.95 263.18 433.02 265.20 434.40C267.22 435.78 269.53 437.60 271.30 439.00C273.07 440.40 274.28 441.62 275.80 442.80C277.32 443.98 278.88 445.10 280.40 446.10C281.92 447.10 283.40 448.10 284.90 448.80C286.40 449.50 287.63 450.00 289.40 450.30C291.17 450.60 293.73 450.72 295.50 450.60C297.27 450.48 298.25 450.15 300.00 449.60C301.75 449.05 303.98 448.13 306.00 447.30C308.02 446.47 310.08 445.40 312.10 444.60C314.12 443.80 316.08 443.10 318.10 442.50C320.12 441.90 322.18 441.33 324.20 441.00C326.22 440.67 328.18 440.72 330.20 440.50C332.22 440.28 334.28 440.33 336.30 439.70C338.32 439.07 340.53 437.70 342.30 436.70C344.07 435.70 345.13 434.97 346.90 433.70C348.67 432.43 350.88 430.48 352.90 429.10C354.92 427.72 357.23 426.35 359.00 425.40C360.77 424.45 362.50 423.78 363.50 423.40C364.50 423.02 364.00 422.77 365.00 423.10C366.00 423.43 367.98 424.02 369.50 425.40C371.02 426.78 372.58 428.88 374.10 431.40C375.62 433.92 377.10 437.35 378.60 440.50C380.10 443.65 381.58 447.15 383.10 450.30C384.62 453.45 386.18 456.62 387.70 459.40C389.22 462.18 390.68 464.98 392.20 467.00C393.72 469.02 395.28 470.48 396.80 471.50C398.32 472.52 399.80 472.98 401.30 473.10C402.80 473.22 404.28 472.85 405.80 472.20C407.32 471.55 408.88 470.20 410.40 469.20C411.92 468.20 413.35 467.22 414.90 466.20C416.45 465.18 418.02 464.67 419.70 463.10C421.38 461.53 423.28 458.78 425.00 456.80C426.72 454.82 428.33 453.07 430.00 451.20C431.67 449.33 433.33 447.37 435.00 445.60C436.67 443.83 438.33 441.95 440.00 440.60C441.67 439.25 443.35 438.07 445.00 437.50C446.65 436.93 448.25 436.68 449.90 437.20C451.55 437.72 453.23 439.30 454.90 440.60C456.57 441.90 458.23 443.65 459.90 445.00C461.57 446.35 463.23 447.67 464.90 448.70C466.57 449.73 468.00 450.67 469.90 451.20C471.80 451.73 475.23 451.78 476.30 451.90" stroke="#1468aa"/>
<path d="M47.80 447.60C48.08 447.60 47.95 447.65 49.50 447.60C51.05 447.55 55.08 447.10 57.10 447.30C59.12 447.50 59.83 448.68 61.60 448.80C63.37 448.92 65.43 448.38 67.70 448.00C69.97 447.62 72.43 446.92 75.20 446.50C77.97 446.08 81.27 445.62 84.30 445.50C87.33 445.38 90.37 445.70 93.40 445.80C96.43 445.90 99.48 445.85 102.50 446.10C105.52 446.35 108.73 446.98 111.50 447.30C114.27 447.62 116.85 448.00 119.10 448.00C121.35 448.00 122.83 447.47 125.00 447.30C127.17 447.13 128.90 447.00 132.10 447.00C135.30 447.00 140.17 447.25 144.20 447.30C148.23 447.35 152.77 447.35 156.30 447.30C159.83 447.25 163.12 447.00 165.40 447.00C167.68 447.00 168.23 446.87 170.00 447.30C171.77 447.73 173.98 448.47 176.00 449.60C178.02 450.73 180.08 452.60 182.10 454.10C184.12 455.60 186.08 457.22 188.10 458.60C190.12 459.98 192.18 461.27 194.20 462.40C196.22 463.53 198.18 464.52 200.20 465.40C202.22 466.28 204.28 467.13 206.30 467.70C208.32 468.27 210.53 468.87 212.30 468.80C214.07 468.73 215.38 468.62 216.90 467.30C218.42 465.98 219.88 463.73 221.40 460.90C222.92 458.07 224.48 453.95 226.00 450.30C227.52 446.65 229.00 442.27 230.50 439.00C232.00 435.73 233.50 433.22 235.00 430.70C236.50 428.18 237.98 425.62 239.50 423.90C241.02 422.18 242.58 421.17 244.10 420.40C245.62 419.63 246.83 419.30 248.60 419.30C250.37 419.30 252.68 419.77 254.70 420.40C256.72 421.03 258.68 421.90 260.70 423.10C262.72 424.30 265.03 425.83 266.80 427.60C268.57 429.37 269.80 431.30 271.30 433.70C272.80 436.10 274.28 439.35 275.80 442.00C277.32 444.65 278.88 447.45 280.40 449.60C281.92 451.75 283.40 453.65 284.90 454.90C286.40 456.15 288.02 456.73 289.40 457.10C290.78 457.47 291.93 457.60 293.20 457.10C294.47 456.60 295.87 455.35 297.00 454.10C298.13 452.85 298.50 451.48 300.00 449.60C301.50 447.72 303.98 444.57 306.00 442.80C308.02 441.03 310.08 439.47 312.10 439.00C314.12 438.53 316.08 439.50 318.10 440.00C320.12 440.50 322.18 441.48 324.20 442.00C326.22 442.52 328.18 442.92 330.20 443.10C332.22 443.28 334.53 443.42 336.30 443.10C338.07 442.78 339.28 442.27 340.80 441.20C342.32 440.13 343.88 438.25 345.40 436.70C346.92 435.15 348.13 433.28 349.90 431.90C351.67 430.52 353.98 429.32 356.00 428.40C358.02 427.48 360.50 426.65 362.00 426.40C363.50 426.15 363.75 426.18 365.00 426.90C366.25 427.62 367.98 428.93 369.50 430.70C371.02 432.47 372.58 434.73 374.10 437.50C375.62 440.27 377.10 444.40 378.60 447.30C380.10 450.20 381.33 452.50 383.10 454.90C384.87 457.30 387.43 460.23 389.20 461.70C390.97 463.17 392.18 463.37 393.70 463.70C395.22 464.03 396.53 464.03 398.30 463.70C400.07 463.37 402.28 462.42 404.30 461.70C406.32 460.98 408.38 460.03 410.40 459.40C412.42 458.77 414.80 458.12 416.40 457.90C418.00 457.68 418.57 458.60 420.00 458.10C421.43 457.60 423.33 456.27 425.00 454.90C426.67 453.53 428.33 451.55 430.00 449.90C431.67 448.25 433.33 446.45 435.00 445.00C436.67 443.55 438.33 442.20 440.00 441.20C441.67 440.20 443.35 439.45 445.00 439.00C446.65 438.55 448.25 438.23 449.90 438.50C451.55 438.77 453.23 439.73 454.90 440.60C456.57 441.47 458.23 442.67 459.90 443.70C461.57 444.73 463.23 445.87 464.90 446.80C466.57 447.73 468.00 448.63 469.90 449.30C471.80 449.97 475.23 450.55 476.30 450.80" stroke="#cf5f2e"/>
<path d="M47.80 444.40C48.08 444.43 47.95 444.32 49.50 444.60C51.05 444.88 54.07 445.70 57.10 446.10C60.13 446.50 64.17 446.93 67.70 447.00C71.23 447.07 74.52 446.58 78.30 446.50C82.08 446.42 86.37 446.42 90.40 446.50C94.43 446.58 98.98 447.12 102.50 447.00C106.02 446.88 108.73 446.05 111.50 445.80C114.27 445.55 116.85 445.45 119.10 445.50C121.35 445.55 122.33 445.85 125.00 446.10C127.67 446.35 130.90 446.80 135.10 447.00C139.30 447.20 145.40 447.45 150.20 447.30C155.00 447.15 160.60 446.23 163.90 446.10C167.20 445.97 167.98 446.17 170.00 446.50C172.02 446.83 173.98 447.33 176.00 448.10C178.02 448.87 180.08 449.72 182.10 451.10C184.12 452.48 186.08 454.77 188.10 456.40C190.12 458.03 192.18 459.52 194.20 460.90C196.22 462.28 198.18 463.32 200.20 464.70C202.22 466.08 204.28 467.68 206.30 469.20C208.32 470.72 210.53 472.70 212.30 473.80C214.07 474.90 215.63 475.68 216.90 475.80C218.17 475.92 218.90 476.23 219.90 474.50C220.90 472.77 221.77 469.18 222.90 465.40C224.03 461.62 225.43 456.20 226.70 451.80C227.97 447.40 229.12 441.77 230.50 439.00C231.88 436.23 233.75 437.35 235.00 435.20C236.25 433.05 236.87 428.75 238.00 426.10C239.13 423.45 240.53 421.02 241.80 419.30C243.07 417.58 244.33 416.48 245.60 415.80C246.87 415.12 247.88 414.87 249.40 415.20C250.92 415.53 252.82 416.87 254.70 417.80C256.58 418.73 258.68 419.53 260.70 420.80C262.72 422.07 265.03 423.50 266.80 425.40C268.57 427.30 269.80 429.57 271.30 432.20C272.80 434.83 274.28 438.05 275.80 441.20C277.32 444.35 278.88 448.45 280.40 451.10C281.92 453.75 283.40 455.60 284.90 457.10C286.40 458.60 288.13 459.55 289.40 460.10C290.67 460.65 291.23 461.02 292.50 460.40C293.77 459.78 295.75 457.83 297.00 456.40C298.25 454.97 298.75 453.70 300.00 451.80C301.25 449.90 302.98 446.88 304.50 445.00C306.02 443.12 307.58 441.55 309.10 440.50C310.62 439.45 312.10 438.83 313.60 438.70C315.10 438.57 316.33 439.02 318.10 439.70C319.87 440.38 322.18 441.92 324.20 442.80C326.22 443.68 328.18 444.55 330.20 445.00C332.22 445.45 334.53 445.75 336.30 445.50C338.07 445.25 339.28 444.83 340.80 443.50C342.32 442.17 343.88 439.63 345.40 437.50C346.92 435.37 348.40 432.72 349.90 430.70C351.40 428.68 352.88 426.80 354.40 425.40C355.92 424.00 357.48 422.88 359.00 422.30C360.52 421.72 362.50 421.82 363.50 421.90C364.50 421.98 364.00 422.35 365.00 422.80C366.00 423.25 367.98 423.17 369.50 424.60C371.02 426.03 372.58 428.37 374.10 431.40C375.62 434.43 377.10 439.27 378.60 442.80C380.10 446.33 381.58 449.83 383.10 452.60C384.62 455.37 385.93 457.67 387.70 459.40C389.47 461.13 391.93 463.00 393.70 463.00C395.47 463.00 396.78 460.63 398.30 459.40C399.82 458.17 401.17 456.57 402.80 455.60C404.43 454.63 406.33 453.60 408.10 453.60C409.87 453.60 411.77 454.93 413.40 455.60C415.03 456.27 416.80 457.43 417.90 457.60C419.00 457.77 419.03 456.95 420.00 456.60C420.97 456.25 422.67 455.67 423.70 455.50C424.73 455.33 425.37 455.07 426.20 455.60C427.03 456.13 427.87 457.15 428.70 458.70C429.53 460.25 430.37 462.62 431.20 464.90C432.03 467.18 432.87 470.12 433.70 472.40C434.53 474.68 435.37 476.83 436.20 478.60C437.03 480.37 437.77 481.75 438.70 483.00C439.63 484.25 440.55 485.37 441.80 486.10C443.05 486.83 444.43 487.30 446.20 487.40C447.97 487.50 450.32 486.82 452.40 486.70C454.48 486.58 456.62 486.58 458.70 486.70C460.78 486.82 463.03 487.25 464.90 487.40C466.77 487.55 468.00 487.80 469.90 487.60C471.80 487.40 475.23 486.43 476.30 486.20" stroke="#e6b23e"/>
</g>
<line x1="47.5" y1="414.2" x2="52.0" y2="414.2" stroke="#9a9a9a" stroke-width="1"/>
<line x1="505.8" y1="414.2" x2="501.3" y2="414.2" stroke="#9a9a9a" stroke-width="1"/>
<line x1="47.5" y1="430.75" x2="52.0" y2="430.75" stroke="#9a9a9a" stroke-width="1"/>
<line x1="505.8" y1="430.75" x2="501.3" y2="430.75" stroke="#9a9a9a" stroke-width="1"/>
<line x1="47.5" y1="447.25" x2="52.0" y2="447.25" stroke="#9a9a9a" stroke-width="1"/>
<line x1="505.8" y1="447.25" x2="501.3" y2="447.25" stroke="#9a9a9a" stroke-width="1"/>
<line x1="47.5" y1="463.8" x2="52.0" y2="463.8" stroke="#9a9a9a" stroke-width="1"/>
<line x1="505.8" y1="463.8" x2="501.3" y2="463.8" stroke="#9a9a9a" stroke-width="1"/>
<line x1="47.5" y1="480.3" x2="52.0" y2="480.3" stroke="#9a9a9a" stroke-width="1"/>
<line x1="505.8" y1="480.3" x2="501.3" y2="480.3" stroke="#9a9a9a" stroke-width="1"/>
<line x1="430.4" y1="490.46" x2="430.4" y2="485.96" stroke="#9a9a9a" stroke-width="1"/>
<line x1="430.4" y1="413.46" x2="430.4" y2="417.96" stroke="#9a9a9a" stroke-width="1"/>
<rect x="47.5" y="413.46" width="458.30" height="77.00" fill="none" stroke="#9a9a9a" stroke-width="1.0"/>
<text x="43.3" y="418.90" text-anchor="end" class="tl">4</text>
<text x="43.3" y="435.45" text-anchor="end" class="tl">2</text>
<text x="43.3" y="451.95" text-anchor="end" class="tl">0</text>
<text x="43.3" y="468.50" text-anchor="end" class="tl">−2</text>
<text x="43.3" y="485.00" text-anchor="end" class="tl">−4</text>
<text x="430.4" y="505.66" text-anchor="middle" class="tl">5</text>
<text x="276.6" y="522.36" text-anchor="middle" class="lab">Time [s]</text>
<text x="276.67" y="407.96" text-anchor="middle" class="ttl" letter-spacing="0.13">Front wheel sideslip angle</text>
<text transform="translate(23.2 451.96) rotate(-90)" text-anchor="middle" class="lab"><tspan font-family="'Liberation Serif', serif" font-style="italic">α</tspan><tspan dx="0.5" dy="5.5" font-size="9.8">f</tspan><tspan dx="1.3" dy="-5.5"> [deg]</tspan></text>
<rect x="475.6" y="434.8" width="70.2" height="40.8" fill="#fff" stroke="#9a9a9a" stroke-width="1"/>
<line x1="477.70000000000005" y1="442.30" x2="500.6" y2="442.30" stroke="#1468aa" stroke-width="2"/>
<text x="502.40000000000003" y="446.80" class="lg">1TP</text>
<line x1="477.70000000000005" y1="455.65" x2="500.6" y2="455.65" stroke="#cf5f2e" stroke-width="2"/>
<text x="502.40000000000003" y="460.15" class="lg">2TP</text>
<line x1="477.70000000000005" y1="469.00" x2="500.6" y2="469.00" stroke="#e6b23e" stroke-width="2"/>
<text x="502.40000000000003" y="473.50" class="lg">Cascade</text>
</svg>
</body></html>
